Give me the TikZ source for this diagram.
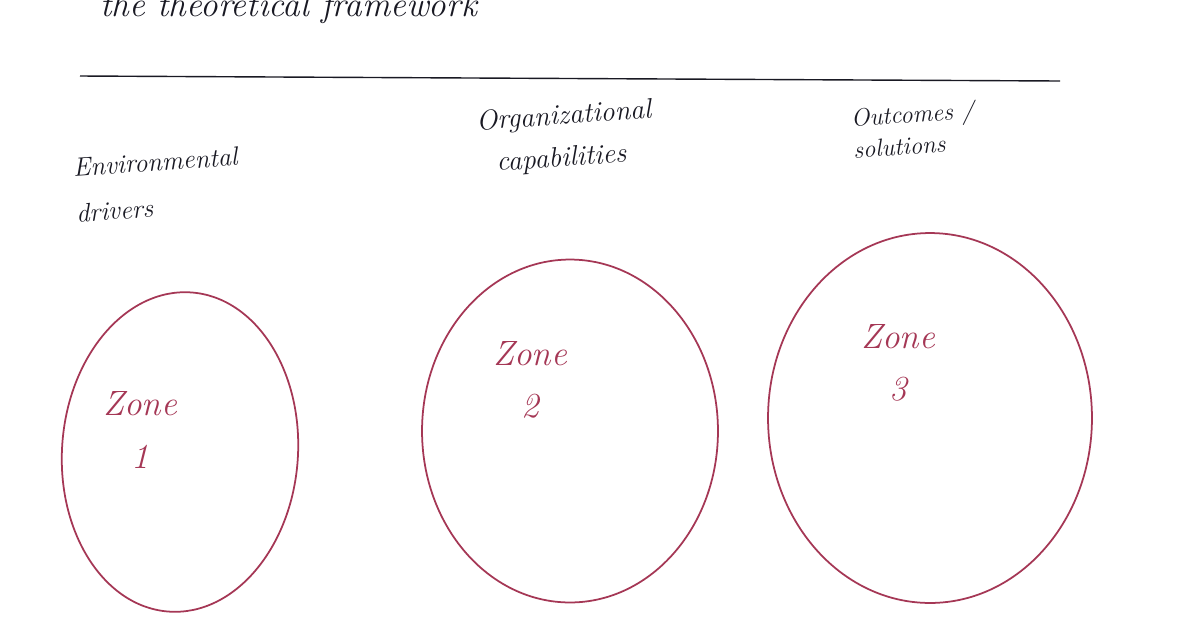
\documentclass[tikz,border=0pt]{standalone}
\usetikzlibrary{shapes.geometric, positioning}
\definecolor{zoneink}{RGB}{165,55,85}
\definecolor{penink}{RGB}{25,25,35}
\tikzset{
    zone/.style = {ellipse, draw=zoneink, line width=1pt, inner sep=0pt}, % the hand drawn circles
    head/.style = {align=left, anchor=north west, text=penink, inner sep=0pt, rotate=4,
                   font=\fontsize{15}{26}\selectfont\itshape},
    zonetxt/.style = {align=center, text=zoneink, inner sep=0pt,
                      font=\fontsize{20}{30}\selectfont\itshape}
}
\begin{document}
\begin{tikzpicture}[x=0.02cm, y=-0.02cm]
    \useasboundingbox[fill=white] (0,0) rectangle (1200,630);
    % title, cut off at the top of the page
    \node[head, anchor=base west, rotate=-4, font=\fontsize{20}{24}\selectfont\itshape] (title) at (100,16) {the theoretical framework};
    \coordinate (rulel) at (80,76);
    \coordinate (ruler) at (1060,81);
    \draw[penink, line width=0.8pt] (rulel) -- (ruler);
    % column heads
    \node[head] (env) at (72,158) {Environmental\\drivers};
    \node[head, font=\fontsize{16}{24}\selectfont\itshape] (org) at (475,110) {Organizational\\\hspace{10pt}capabilities};
    \node[head, font=\fontsize{14}{18}\selectfont\itshape] (out) at (850,108) {Outcomes /\\solutions};
    % zones
    \node[zone, minimum width=4.72cm, minimum height=6.4cm, rotate=-4] (z1) at (180,452) {};
    \node[zone, minimum width=5.92cm, minimum height=6.86cm] (z2) at (570,431) {};
    \node[zone, minimum width=6.48cm, minimum height=7.4cm] (z3) at (930,418) {};
    \node[zonetxt] (z1txt) at (140,430) {Zone\\1};
    \node[zonetxt] (z2txt) at (530,380) {Zone\\2};
    \node[zonetxt] (z3txt) at (898,363) {Zone\\3};
\end{tikzpicture}
\end{document}
